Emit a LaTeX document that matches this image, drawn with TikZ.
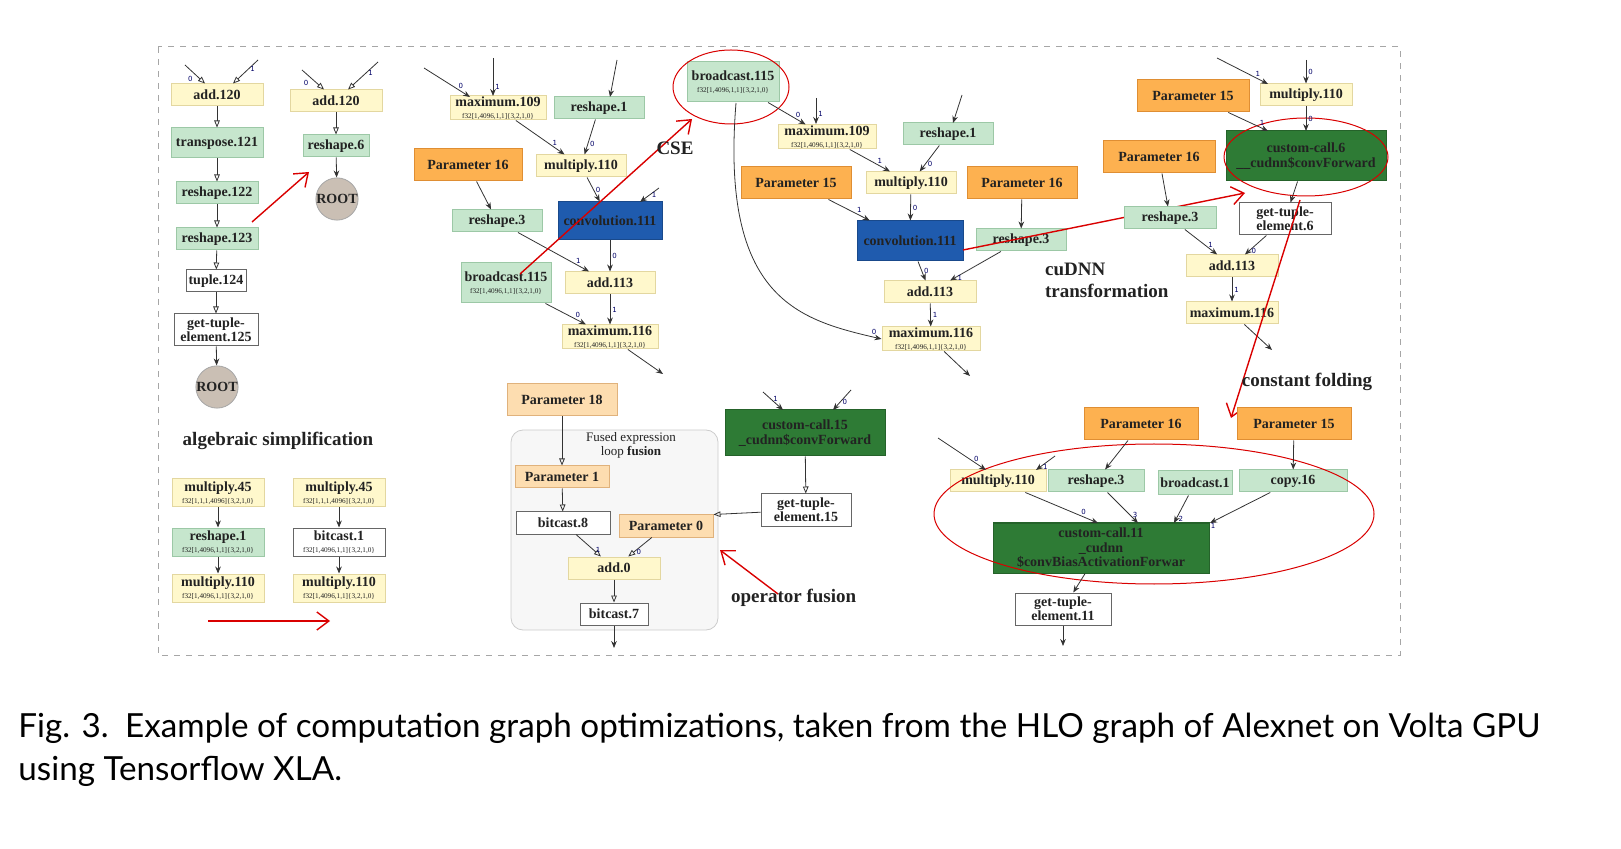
\documentclass[tikz,border=0pt]{standalone}
\usepackage{fontspec}
\setmainfont{Liberation Serif}
\newfontfamily\capfont{Lato}
\newfontfamily\labfont{DejaVu Sans}
\usetikzlibrary{arrows.meta}
\definecolor{cY}{HTML}{FFF8CC}\definecolor{bY}{HTML}{E3D7A0}
\definecolor{cG}{HTML}{C6E6CD}\definecolor{bG}{HTML}{9CC8A6}
\definecolor{cO}{HTML}{FDB150}\definecolor{bO}{HTML}{DF8E33}
\definecolor{cL}{HTML}{FDDDB0}\definecolor{bL}{HTML}{E0B27C}
\definecolor{cB}{HTML}{1F5BAE}\definecolor{cD}{HTML}{2E7B35}
\definecolor{tx}{HTML}{222222}
\newcommand{\sm}[1]{\\[-1pt]{\fontsize{3.6}{4}\selectfont\mdseries #1}}
\begin{document}
\begin{tikzpicture}[x=0.5pt,y=-0.5pt,
 box/.style={draw,inner sep=0pt,align=center,font=\fontsize{7}{7.2}\selectfont\bfseries,text=tx,line width=0.5pt},
 w/.style={minimum width=#1*0.5pt}, h/.style={minimum height=#1*0.5pt},
 Y/.style={box,fill=cY,draw=bY}, G/.style={box,fill=cG,draw=bG}, O/.style={box,fill=cO,draw=bO},
 L/.style={box,fill=cL,draw=bL}, B/.style={box,fill=cB,draw=cB!80!black}, D/.style={box,fill=cD,draw=cD!80!black},
 W/.style={box,fill=white,draw=gray!80!black},
 R/.style={circle,draw=gray!70,fill=brown!35!gray!50,inner sep=0pt,minimum size=21pt,font=\fontsize{7}{8}\selectfont\bfseries,text=tx},
 e/.style={draw=black!80,line width=0.4pt,-{Stealth[length=3.5pt,width=2.8pt]}},
 eo/.style={draw=black!80,line width=0.4pt,-{Triangle[open,length=3.5pt,width=2.8pt]}},
 lab/.style={font=\labfont\fontsize{3.5}{4}\selectfont,text=blue!40!black,inner sep=1pt},
 red/.style={draw=red!85!black,line width=0.7pt,-{Straight Barb[length=6pt,width=9pt]}},
 rell/.style={draw=red!85!black,line width=0.5pt},
 big/.style={font=\fontsize{9.5}{11}\selectfont\bfseries,text=tx,align=left}]
\draw[gray!70,dashed,line width=0.5pt] (158,47) rectangle (1400,655);
% column 1
\node[Y,w=92,h=22] (a1) at (217,95) {add.120};
\node[G,w=92,h=30] (t1) at (217,143) {transpose.121};
\node[G,w=82,h=22] (r122) at (217,193) {reshape.122};
\node[G,w=82,h=22] (r123) at (217,239) {reshape.123};
\node[W,w=60,h=22] (tu) at (216,281) {tuple.124};
\node[W,w=84,h=32] (g125) at (216,330) {get-tuple-\\element.125};
\node[R] (root1) at (217,387) {ROOT};
\coordinate (i1a) at (185,65); \coordinate (i1b) at (258,60);
\draw[eo] (i1a) -- node[lab,pos=0.5,below left]{0} ([xshift=-6pt]a1.north);
\draw[eo] (i1b) -- node[lab,pos=0.4,right]{1} ([xshift=8pt]a1.north);
\draw[eo] (a1) -- (t1); \draw[eo] (t1) -- (r122); \draw[eo] (r122) -- (r123);
\draw[eo] (r123) -- (tu); \draw[eo] (tu) -- (g125); \draw[e] (g125) -- (root1);
% column 2
\node[Y,w=92,h=22] (a2) at (336,101) {add.120};
\node[G,w=66,h=22] (r6) at (336,146) {reshape.6};
\node[R] (root2) at (337,199) {ROOT};
\coordinate (i2a) at (302,70); \coordinate (i2b) at (378,62);
\draw[eo] (i2a) -- node[lab,pos=0.4,below left]{0} ([xshift=-6pt]a2.north);
\draw[eo] (i2b) -- node[lab,pos=0.4,right]{1} ([xshift=6pt]a2.north);
\draw[eo] (a2) -- (r6); \draw[e] (r6) -- (root2);
\coordinate (ra1) at (252,222); \coordinate (ra2) at (309,172);
\draw[red] (ra1) -- (ra2);
% graph 1
\node[Y,w=96,h=24] (m109) at (498,108) {maximum.109\sm{f32[1,4096,1,1]\{3,2,1,0\}}};
\node[G,w=90,h=22] (rs1) at (599,108) {reshape.1};
\node[O,w=108,h=32] (p16a) at (468,165) {Parameter 16};
\node[Y,w=90,h=22] (mu1) at (581,166) {multiply.110};
\node[G,w=90,h=22] (rs3) at (497,221) {reshape.3};
\node[B,w=104,h=38] (cv1) at (610,221) {convolution.111};
\node[G,w=90,h=40] (bc1) at (506,283) {broadcast.115\sm{f32[1,4096,1,1]\{3,2,1,0\}}};
\node[Y,w=90,h=22] (ad1) at (610,283) {add.113};
\node[Y,w=96,h=24] (mx1) at (610,337) {maximum.116\sm{f32[1,4096,1,1]\{3,2,1,0\}}};
\coordinate (g1a) at (424,68); \coordinate (g1b) at (493,58); \coordinate (g1c) at (617,60);
\coordinate (g1d) at (659,188); \coordinate (g1o) at (663,374);
\draw[e] (g1a) -- node[lab,pos=0.8,above]{0} (470,97);
\draw[e] (g1b) -- node[lab,pos=0.75,right]{1} (493,96);
\draw[e] (g1c) -- (610,97);
\draw[e] (m109) -- node[lab,pos=0.8,above]{1} (mu1);
\draw[e] (rs1) -- node[lab,pos=0.7,right]{0} (mu1);
\draw[e] (mu1) -- node[lab,pos=0.5,right]{0} (cv1);
\draw[e] (g1d) -- node[lab,pos=0.5,right]{1} (640,202);
\draw[e] (p16a) -- (rs3);
\draw[e] (rs3) -- node[lab,pos=0.85,above]{1} (ad1);
\draw[e] (cv1) -- node[lab,pos=0.5,right]{0} (ad1);
\draw[e] (bc1) -- node[lab,pos=0.8,above]{0} (mx1);
\draw[e] (ad1) -- node[lab,pos=0.5,right]{1} (mx1);
\draw[e] (mx1) -- (g1o);
\coordinate (ra3) at (520,274); \coordinate (ra4) at (692,119);
\draw[red] (ra3) -- (ra4);
\node[big] (cse) at (675,148) {CSE};
% graph 2
\node[G,w=92,h=40] (bc2) at (733,82) {broadcast.115\sm{f32[1,4096,1,1]\{3,2,1,0\}}};
\draw[rell] (731,87) ellipse [x radius=58,y radius=37];
\node[Y,w=98,h=24] (m109b) at (827,137) {maximum.109\sm{f32[1,4096,1,1]\{3,2,1,0\}}};
\node[G,w=90,h=22] (rs1b) at (948,134) {reshape.1};
\node[O,w=110,h=32] (p15b) at (796,183) {Parameter 15};
\node[Y,w=90,h=22] (mu2) at (911,183) {multiply.110};
\node[O,w=110,h=32] (p16b) at (1022,183) {Parameter 16};
\node[B,w=106,h=40] (cv2) at (910,241) {convolution.111};
\node[G,w=90,h=22] (rs3b) at (1021,240) {reshape.3};
\node[Y,w=92,h=22] (ad2) at (930,292) {add.113};
\node[Y,w=98,h=24] (mx2) at (931,339) {maximum.116\sm{f32[1,4096,1,1]\{3,2,1,0\}}};
\coordinate (g2b) at (816,98); \coordinate (g2c) at (962,95); \coordinate (g2o) at (970,376);
\draw[e] (bc2) -- node[lab,pos=0.8,above]{0} (m109b);
\draw[e] (g2b) -- node[lab,pos=0.6,right]{1} (816,124);
\draw[e] (g2c) -- (953,123);
\draw[e] (m109b) -- node[lab,pos=0.75,above]{1} (mu2);
\draw[e] (rs1b) -- node[lab,pos=0.7,right]{0} (mu2);
\draw[e] (p15b) -- node[lab,pos=0.75,above]{1} (cv2);
\draw[e] (mu2) -- node[lab,pos=0.5,right]{0} (cv2);
\draw[e] (p16b) -- (rs3b);
\draw[e] (cv2) -- node[lab,pos=0.5,right]{0} (ad2);
\draw[e] (rs3b) -- node[lab,pos=0.9,right]{1} (ad2);
\draw[e] (ad2) -- node[lab,pos=0.5,right]{1} (mx2);
\draw[e] (736,103) .. controls (720,300) and (800,320) .. node[lab,pos=0.97,above]{0} (mx2.west);
\draw[e] (mx2) -- (g2o);
\node[big,anchor=west] (cud) at (1038,280) {cuDNN\\transformation};
\coordinate (ra5) at (963,250); \coordinate (ra6) at (1245,193);
\draw[red] (ra5) -- (ra6);
% graph 3
\node[O,w=112,h=32] (p15c) at (1193,96) {Parameter 15};
\node[Y,w=92,h=22] (mu3) at (1306,95) {multiply.110};
\node[O,w=112,h=32] (p16c) at (1159,157) {Parameter 16};
\node[D,w=160,h=50] (cc6) at (1306,156) {custom-call.6\\\_\_cudnn\$convForward};
\draw[rell] (1306,157) ellipse [x radius=82,y radius=39];
\node[G,w=92,h=22] (rs3c) at (1170,218) {reshape.3};
\node[W,w=92,h=32] (g6) at (1285,219) {get-tuple-\\element.6};
\node[Y,w=92,h=22] (ad3) at (1232,266) {add.113};
\node[Y,w=92,h=22] (mx3) at (1232,313) {maximum.116};
\coordinate (g3a) at (1217,58); \coordinate (g3b) at (1306,60); \coordinate (g3o) at (1272,350);
\draw[e] (g3a) -- node[lab,pos=0.8,above]{1} (1268,84);
\draw[e] (g3b) -- node[lab,pos=0.5,right]{0} (mu3);
\draw[e] (p15c) -- node[lab,pos=0.85,above]{1} (1268,131);
\draw[e] (mu3) -- node[lab,pos=0.5,right]{0} (1306,131);
\draw[e] (p16c) -- (rs3c);
\draw[e] (cc6) -- (g6);
\draw[e] (rs3c) -- node[lab,pos=0.8,above]{1} (ad3);
\draw[e] (g6) -- node[lab,pos=0.8,right]{0} (ad3);
\draw[e] (ad3) -- node[lab,pos=0.5,right]{1} (mx3);
\draw[e] (mx3) -- (g3o);
\coordinate (ra7) at (1300,200); \coordinate (ra8) at (1231,418);
\draw[red] (ra7) -- (ra8);
\node[big] (cf) at (1307,382) {constant folding};
% graph 4
\node[O,w=114,h=32] (p16d) at (1141,424) {Parameter 16};
\node[O,w=114,h=32] (p15d) at (1294,424) {Parameter 15};
\node[Y,w=96,h=22] (mu4) at (998,481) {multiply.110};
\node[G,w=96,h=22] (rs3d) at (1096,481) {reshape.3};
\node[G,w=74,h=24] (bc4) at (1195,483) {broadcast.1};
\node[G,w=108,h=22] (cp) at (1293,481) {copy.16};
\node[D,w=216,h=50] (cc11) at (1101,548) {custom-call.11\\\_cudnn\\\$convBiasActivationForwar};
\node[W,w=96,h=32] (g11) at (1063,609) {get-tuple-\\element.11};
\draw[rell] (1154,514) ellipse [x radius=220,y radius=70];
\coordinate (g4a) at (938,438); \coordinate (g4b) at (1055,456); \coordinate (g4o) at (1063,646);
\draw[e] (g4a) -- node[lab,pos=0.8,above]{0} (986,470);
\draw[e] (g4b) -- node[lab,pos=0.75,right]{1} (1036,470);
\draw[e] (p16d) -- (rs3d);
\draw[e] (p15d) -- (cp);
\draw[e] (mu4) -- node[lab,pos=0.8,above]{0} (1098,523);
\draw[e] (rs3d) -- node[lab,pos=0.75,right]{3} (1138,523);
\draw[e] (bc4) -- node[lab,pos=0.85,right]{2} (1174,523);
\draw[e] (cp) -- node[lab,pos=0.95,below]{1} (1210,523);
\draw[e] (cc11) -- (g11);
\draw[e] (g11) -- (g4o);
% fusion
\node[L,w=110,h=32] (p18) at (562,400) {Parameter 18};
\draw[gray!40,fill=gray!6,rounded corners=6pt] (511,430) rectangle (718,630);
\node[font=\fontsize{6.5}{7}\selectfont,align=center,text=tx] (fe) at (631,445) {Fused expression\\loop \textbf{fusion}};
\node[L,w=94,h=22] (p1) at (562,477) {Parameter 1};
\node[W,w=94,h=22] (b8) at (563,523) {bitcast.8};
\node[L,w=94,h=22] (p0) at (666,526) {Parameter 0};
\node[Y,w=92,h=22] (a0) at (614,568) {add.0};
\node[W,w=68,h=22] (b7) at (614,614) {bitcast.7};
\node[D,w=160,h=46] (cc15) at (805,433) {custom-call.15\\\_cudnn\$convForward};
\node[W,w=90,h=32] (g15) at (806,510) {get-tuple-\\element.15};
\coordinate (g5a) at (763,392); \coordinate (g5b) at (851,390); \coordinate (g5o) at (614,648);
\draw[e] (g5a) -- node[lab,pos=0.4,right]{1} (783,410);
\draw[e] (g5b) -- node[lab,pos=0.6,right]{0} (833,410);
\draw[eo] (cc15) -- (g15);
\draw[eo] (g15) -- (p0.north east);
\draw[eo] (p18) -- (p1); \draw[eo] (p1) -- (b8);
\draw[eo] (b8) -- node[lab,pos=0.7,right]{1} (a0);
\draw[eo] (p0) -- node[lab,pos=0.75,right]{0} (a0);
\draw[eo] (a0) -- (b7);
\draw[e] (b7) -- (g5o);
\coordinate (ra9) at (778,594); \coordinate (ra10) at (720,550);
\draw[red] (ra9) -- (ra10);
\node[big,anchor=west] (of) at (724,598) {operator fusion};
% algebraic
\node[big] (alg) at (278,441) {algebraic simplification};
\node[Y,w=92,h=28] (m45a) at (218,493) {multiply.45\sm{f32[1,1,1,4096]\{3,2,1,0\}}};
\node[G,w=92,h=28] (r1a) at (218,542) {reshape.1\sm{f32[1,4096,1,1]\{3,2,1,0\}}};
\node[Y,w=92,h=28] (m110a) at (218,588) {multiply.110\sm{f32[1,4096,1,1]\{3,2,1,0\}}};
\node[Y,w=92,h=28] (m45b) at (339,493) {multiply.45\sm{f32[1,1,1,4096]\{3,2,1,0\}}};
\node[W,w=92,h=28] (bc1b) at (339,542) {bitcast.1\sm{f32[1,4096,1,1]\{3,2,1,0\}}};
\node[Y,w=92,h=28] (m110b) at (339,588) {multiply.110\sm{f32[1,4096,1,1]\{3,2,1,0\}}};
\draw[e] (m45a) -- (r1a); \draw[e] (r1a) -- (m110a);
\draw[e] (m45b) -- (bc1b); \draw[e] (bc1b) -- (m110b);
\coordinate (ra11) at (208,621); \coordinate (ra12) at (330,621);
\draw[red] (ra11) -- (ra12);
% caption
\node[anchor=west,font=\capfont\fontsize{16.6}{19}\selectfont,inner sep=0pt] (c1) at (18,728) {Fig. 3.\enspace Example of computation graph optimizations, taken from the HLO graph of Alexnet on Volta GPU};
\node[anchor=west,font=\capfont\fontsize{16.6}{19}\selectfont,inner sep=0pt] (c2) at (18,771) {using Tensorflow XLA.};
\pgfresetboundingbox
\path[use as bounding box] (0,0) rectangle (1621,849);
\end{tikzpicture}
\end{document}
